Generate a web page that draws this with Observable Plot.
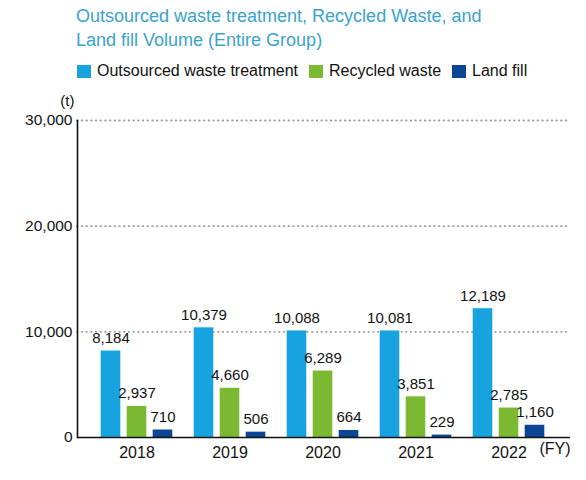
<!DOCTYPE html>
<html>
<head>
<meta charset="utf-8">
<script src="https://cdn.jsdelivr.net/npm/d3@7"></script>
<script src="https://cdn.jsdelivr.net/npm/@observablehq/plot@0.6"></script>
<style>
  body { margin: 0; background: #fff; font-family: "Liberation Sans", Arial, sans-serif; }
  #head { position: relative; height: 88px; width: 586px; }
  #title { position: absolute; left: 76px; top: 4px; font-size: 18px; line-height: 24px; color: #39a3cf; white-space: nowrap; }
  #legend { position: absolute; left: 77px; top: 62px; display: flex; align-items: center; font-size: 16px; color: #111; white-space: nowrap; }
  #legend .item { display: flex; align-items: center; margin-right: 11px; }
  #legend .sw { width: 14px; height: 13px; margin-right: 6px; }
</style>
</head>
<body>
<div id="head">
  <div id="title">Outsourced waste treatment, Recycled Waste, and<br>Land fill Volume (Entire Group)</div>
  <div id="legend"></div>
</div>
<div id="chart"></div>
<script>
// data (t)
const years = ["2018", "2019", "2020", "2021", "2022"];
const outsourced = [8184, 10379, 10088, 10081, 12189];
const recycled = [2937, 4660, 6289, 3851, 2785];
const landfill = [710, 506, 664, 229, 1160];
const seriesNames = ["Outsourced waste treatment", "Recycled waste", "Land fill"];
const seriesColors = ["#17a3e0", "#7bb933", "#0c4593"];
const yTicks = [0, 10000, 20000, 30000];
const gridTicks = [10000, 20000, 30000];

// legend
const legend = document.getElementById('legend');
seriesNames.forEach((name, i) => {
    const item = document.createElement('div');
    item.className = 'item';
    item.innerHTML = `<span class="sw" style="background:${seriesColors[i]}"></span>${name}`;
    legend.appendChild(item);
});

const series = [outsourced, recycled, landfill];
const offsets = [-26, 0, 26];
const barInset = 36.7;
const fmt = d3.format(",");

const barMarks = series.flatMap((values, k) => {
    const rows = years.map((year, i) => ({ year, value: values[i] }));
    return [
        Plot.barY(rows, { x: "year", y: "value", fill: seriesColors[k], dx: offsets[k], insetLeft: barInset, insetRight: barInset }),
        Plot.text(rows, { x: "year", y: "value", text: d => fmt(d.value), dx: offsets[k], dy: -13, fontSize: 15, fill: "#111" })
    ];
});

const plot = Plot.plot({
    width: 586,
    height: 392,
    marginTop: 32,
    marginBottom: 43,
    marginLeft: 77,
    marginRight: 16,
    insetLeft: 12,
    insetRight: 14,
    x: { domain: years, padding: 0 },
    y: { domain: [0, 30000] },
    style: {
        fontFamily: "'Liberation Sans', Arial, sans-serif",
        fontSize: "15px",
        color: "#111",
        background: "#fff"
    },
    marks: [
        Plot.ruleY(gridTicks, { stroke: "#9a9a9a", strokeWidth: 1.8, strokeDasharray: "0.5,4.2", strokeLinecap: "round" }),
        ...barMarks,
        Plot.axisY({ ticks: yTicks, tickFormat: fmt, tickSize: 0, tickPadding: 5, label: null, fontSize: 15.5, fill: "#111" }),
        Plot.axisX({ tickSize: 0, tickPadding: 9, label: null, fontSize: 16, fill: "#111" }),
        Plot.frame({ anchor: "left", stroke: "#111", strokeWidth: 1.6 }),
        Plot.ruleY([0], { stroke: "#111", strokeWidth: 1.6 }),
        Plot.text(["(t)"], { frameAnchor: "top-left", text: d => d, dx: -3, dy: -25, textAnchor: "end", fontSize: 15, fill: "#111" }),
        Plot.text(["(FY)"], { frameAnchor: "bottom-right", text: d => d, dy: 16, textAnchor: "end", fontSize: 16, fill: "#111" })
    ]
});

document.getElementById('chart').append(plot);
</script>
</body>
</html>
